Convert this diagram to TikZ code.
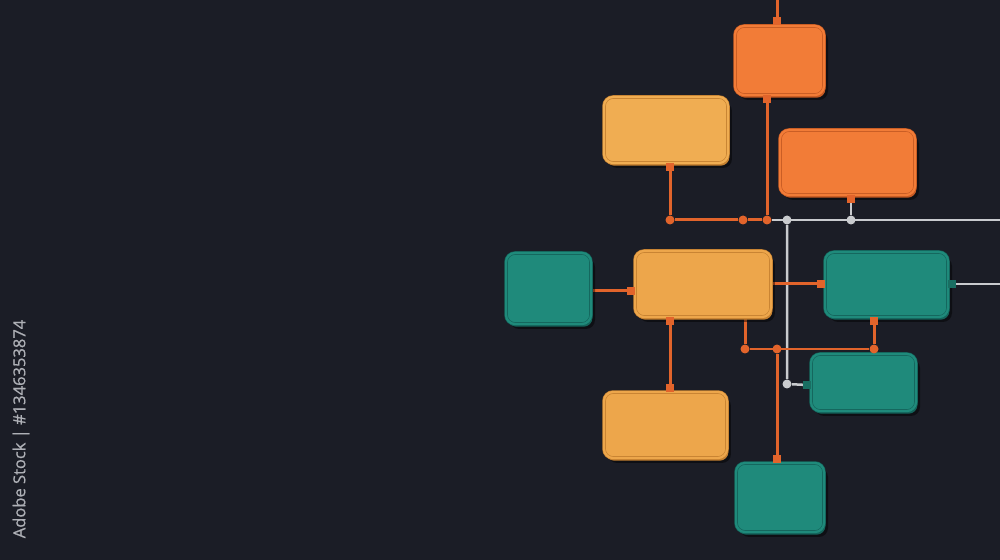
\documentclass[tikz,border=0pt]{standalone}
\usepackage{fontspec}
\newfontfamily\stampfont{Open Sans}[FakeBold=0.6]
\usetikzlibrary{shadows,backgrounds}

\definecolor{bgdark}{HTML}{1B1D26}
\definecolor{orangeM}{HTML}{F27C37}
\definecolor{orangeD}{HTML}{C55A23}
\definecolor{amberM}{HTML}{EDA64B}
\definecolor{amberL}{HTML}{F0AD52}
\definecolor{amberD}{HTML}{C48030}
\definecolor{tealM}{HTML}{1F8A7B}
\definecolor{tealD}{HTML}{14635A}
\definecolor{wireO}{HTML}{E2642B}
\definecolor{wireG}{HTML}{C9CBCE}
\definecolor{stampgray}{HTML}{AEB0B6}

\begin{document}
\begin{tikzpicture}[x=0.02cm, y=-0.02cm,
			box/.style={rectangle, rounded corners=1.8mm, inner sep=0pt, line width=0.35pt, double distance=1.3pt,
				drop shadow={shadow xshift=0.8mm, shadow yshift=-1mm, opacity=0.45, fill=black}},
			orangebox/.style={box, fill=orangeM, draw=orangeD, double=orangeM,
				general shadow={fill=orangeD, shadow xshift=0.3mm, shadow yshift=-0.55mm}},
			amberbox/.style={box, fill=amberM, draw=amberD, double=amberM,
				general shadow={fill=amberD, shadow xshift=0.3mm, shadow yshift=-0.55mm}},
			tealbox/.style={box, fill=tealM, draw=tealD, double=tealM,
				general shadow={fill=tealD, shadow xshift=0.3mm, shadow yshift=-0.55mm}},
			tab/.style={rectangle, fill=wireO, minimum width=1.5mm, minimum height=1.6mm, inner sep=0pt},
			tealtab/.style={tab, fill=tealM!80!black},
			dot/.style={circle, fill=wireO, minimum size=1.8mm, inner sep=0pt},
			gdot/.style={dot, fill=wireG},
			wire/.style={draw=wireO, line width=0.6mm},
			gwire/.style={draw=wireG, line width=0.5mm},
		]
	
		%Background
		\useasboundingbox (0,0) rectangle (1000,560);
		\begin{pgfonlayer}{background}
			\fill[bgdark] (0,0) rectangle (1000,560);
		\end{pgfonlayer}
		\node[rotate=90, text=stampgray, font=\stampfont\fontsize{9.4}{11}\selectfont] (stamp) at (21,429) {Adobe Stock | \#1346353874};
	
		%Boxes
		\node[orangebox, minimum width=17.8mm, minimum height=13.8mm]	(b1) at (779.5,60.5)	{};
		\node[amberbox, fill=amberL, double=amberL, minimum width=24.8mm, minimum height=13.2mm]	(b2) at (666,130)	{};
		\node[orangebox, minimum width=27mm, minimum height=13mm]		(b3) at (847.5,162.5)	{};
		\node[tealbox, minimum width=17mm, minimum height=14.2mm]		(b4) at (548.5,288.5)	{};
		\node[amberbox, minimum width=27.2mm, minimum height=13.2mm]	(b5) at (703,284)	{};
		\node[tealbox, minimum width=24.6mm, minimum height=13mm]		(b6) at (886.5,284.5)	{};
		\node[tealbox, minimum width=21mm, minimum height=11.4mm]		(b7) at (863.5,382.5)	{};
		\node[amberbox, minimum width=24.6mm, minimum height=13.2mm]	(b8) at (665.5,425)	{};
		\node[tealbox, minimum width=17.6mm, minimum height=13.8mm]		(b9) at (780,497.5)	{};
	
		%Tabs
		\node[tab]		(t1n) at (777,21)	{};
		\node[tab]		(t1s) at (767,99)	{};
		\node[tab]		(t2s) at (670,167)	{};
		\node[tab]		(t3s) at (851,199)	{};
		\node[tab]		(t5w) at (631,291)	{};
		\node[tab]		(t5s) at (670,321)	{};
		\node[tab]		(t6w) at (821,284)	{};
		\node[tab]		(t6s) at (874,321)	{};
		\node[tealtab]	(t6e) at (952,284)	{};
		\node[tealtab]	(t7w) at (807,385)	{};
		\node[tab]		(t8n) at (670,388)	{};
		\node[tab]		(t9n) at (777,459)	{};
	
		%Dots
		\node[dot]	(d1) at (670,220)	{};
		\node[dot]	(d2) at (743,220)	{};
		\node[dot]	(d3) at (767,220)	{};
		\node[gdot]	(g1) at (787,220)	{};
		\node[gdot]	(g2) at (851,220)	{};
		\node[gdot]	(g3) at (787,384)	{};
		\node[dot]	(d4) at (745,349)	{};
		\node[dot]	(d5) at (777,349)	{};
		\node[dot]	(d6) at (874,349)	{};
		\coordinate (edgetop) at (777,0);
		\coordinate (edgeright1) at (1000,220);
		\coordinate (edgeright2) at (1000,284);
	
		%Lines
		\begin{pgfonlayer}{background}
			\draw[gwire]	(d3) -- (edgeright1);
			\draw[gwire]	(g2) -- (t3s);
			\draw[gwire]	(g1) -- (g3) -- (t7w);
			\draw[gwire]	(t6e) -- (edgeright2);
			\draw[wire]	(edgetop) -- (t1n);
			\draw[wire]	(t1s) -- (d3);
			\draw[wire]	(t2s) -- (d1) -- (d2) -- (d3);
			\draw[wire]	(t5w -| b4.east) -- (t5w);
			\draw[wire]	(t6w -| b5.east) -- (t6w);
			\draw[wire]	(t5s) -- (t8n);
			\draw[wire]	(b5.south -| d4) -- (d4) -- (d6) -- (t6s);
			\draw[wire]	(d5) -- (t9n);
		\end{pgfonlayer}
	
	\end{tikzpicture}
\end{document}
